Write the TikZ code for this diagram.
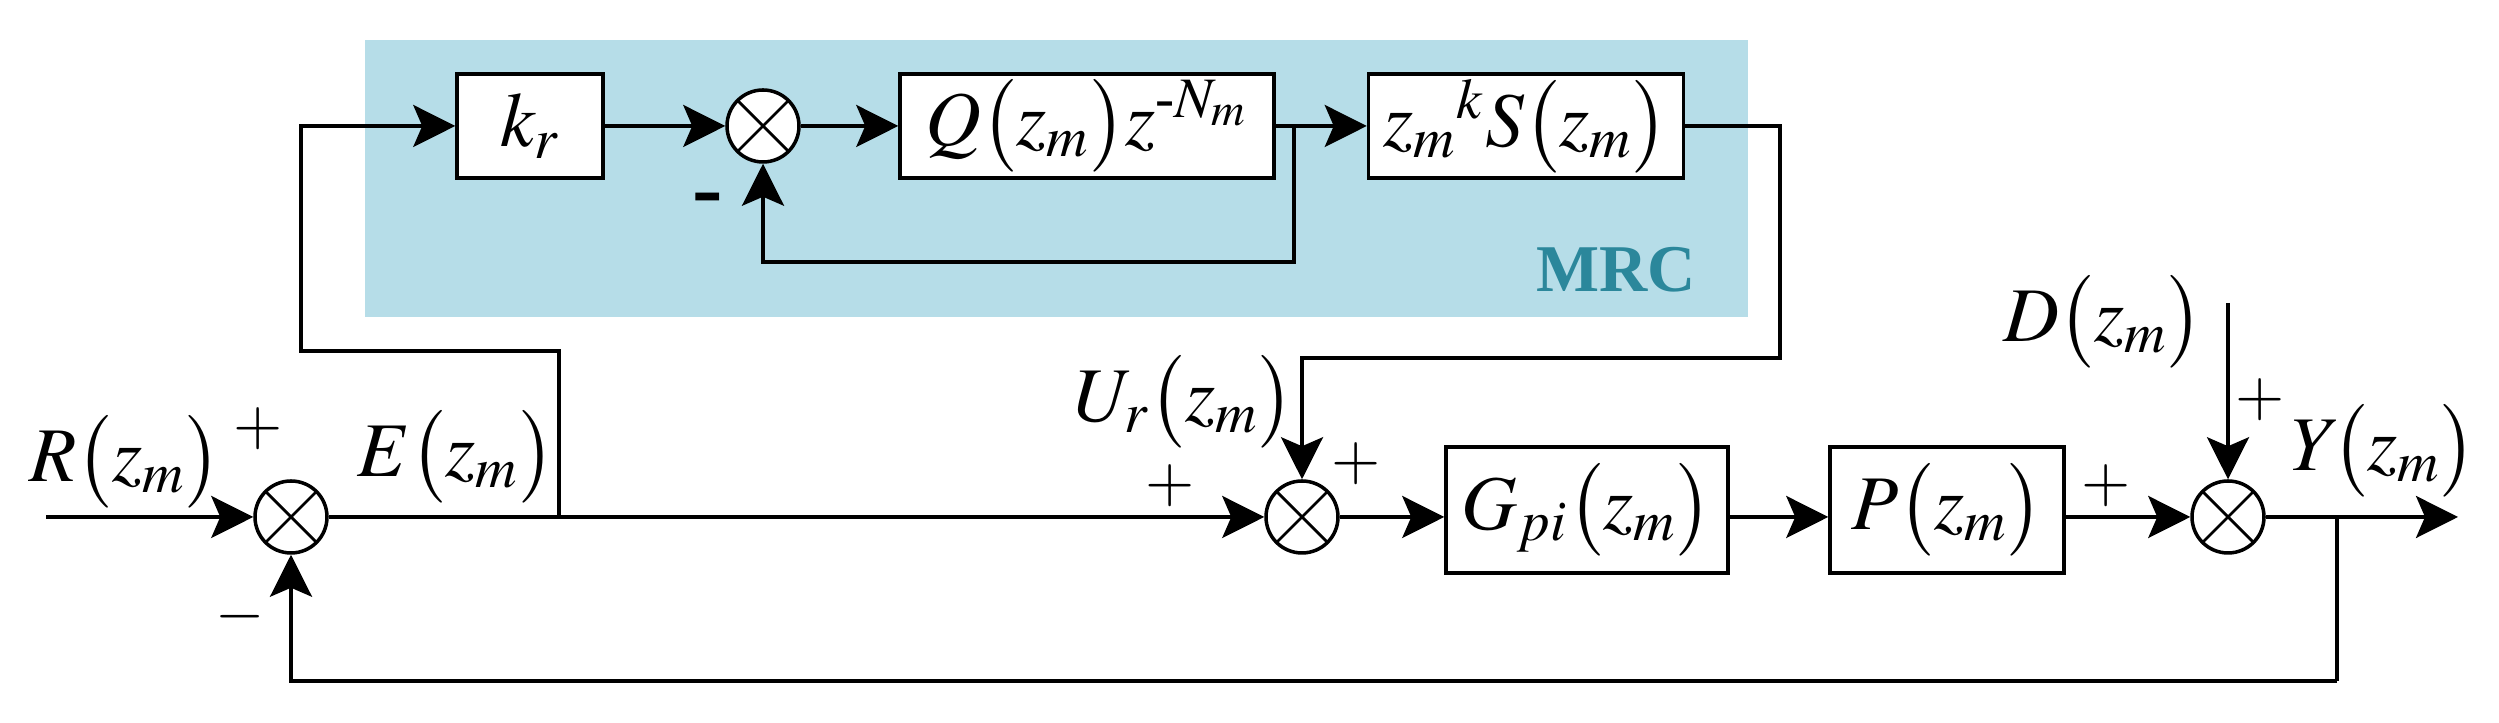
\documentclass[tikz,border=0pt]{standalone}
\usepackage{amsmath}
\usepackage{mathptmx}
\usepackage{fontspec}
\setmainfont{Liberation Serif}
\usepackage{tikz}
\usetikzlibrary{arrows.meta, positioning, calc}
\definecolor{mrcfill}{HTML}{B6DDE8}
\definecolor{mrctext}{HTML}{2B879B}

\begin{document}
\begin{tikzpicture}[
    block/.style={rectangle, draw, line width=1pt, fill=white, minimum height=#1, inner sep=0pt, font=\fontsize{22}{26}\selectfont},
    block/.default={1.04cm},
    sumnode/.style={circle, draw, line width=1pt, fill=white, minimum size=0.72cm, inner sep=0pt,
        path picture={
            \draw[line width=0.8pt] ([shift={(45:3.6mm)}]path picture bounding box.center) -- ([shift={(225:3.6mm)}]path picture bounding box.center);
            \draw[line width=0.8pt] ([shift={(135:3.6mm)}]path picture bounding box.center) -- ([shift={(315:3.6mm)}]path picture bounding box.center);
        }},
    arr/.style={line width=1pt, -{Stealth[length=4.2mm, width=4.2mm, inset=0.9mm]}},
    wire/.style={line width=1pt},
    sig/.style={font=\fontsize{22}{26}\selectfont},
    sign/.style={font=\fontsize{18}{20}\selectfont},
]
\useasboundingbox (0,0) rectangle (24.99,-7.23);

% MRC block
\fill[mrcfill] (3.65,-0.40) rectangle (17.48,-3.17);
\node[font=\fontsize{19}{22}\selectfont\bfseries, color=mrctext] (mrc) at (16.16,-2.70) {MRC};

\node[block, minimum width=1.46cm] (kr) at (5.30,-1.26) {$k_r$};
\node[sumnode] (sumi) at (7.63,-1.26) {};
\node[block, minimum width=3.74cm] (Q) at (10.87,-1.26) {$Q\bigl(z_m\bigr)z^{\text{-}N_m}$};
\node[block, minimum width=3.15cm] (S) at (15.26,-1.26) {$z_m{}^kS\bigl(z_m\bigr)$};
\node[font=\fontsize{26}{28}\selectfont\bfseries] (mi) at (7.08,-2.06) {-};

% main loop
\node[sumnode] (s1) at (2.91,-5.17) {};
\node[sumnode] (s2) at (13.02,-5.17) {};
\node[sumnode] (s3) at (22.28,-5.17) {};
\node[block=1.26cm, minimum width=2.82cm] (G) at (15.87,-5.10) {$G_{pi}\bigl(z_m\bigr)$};
\node[block=1.26cm, minimum width=2.34cm] (P) at (19.47,-5.10) {$P\bigl(z_m\bigr)$};

\coordinate (rin) at (0.46,-5.17);
\coordinate (eb) at (5.59,-5.17);
\coordinate (fb1) at (3.01,-3.51);
\coordinate (qt) at (12.94,-1.26);
\coordinate (qfb) at (12.94,-2.62);
\coordinate (sc1) at (17.80,-3.58);
\coordinate (din) at (22.28,-3.03);
\coordinate (yb) at (23.37,-5.17);
\coordinate (yout) at (24.58,-5.17);
\coordinate (fbb) at (23.37,-6.81);

% connectors
\draw[arr] (rin) -- (s1.west);
\draw[arr] (s1.east) -- (s2.west);
\draw[arr] (eb) |- (fb1) |- (kr.west);
\draw[arr] (kr) -- (sumi);
\draw[arr] (sumi) -- (Q);
\draw[arr] (Q) -- (S);
\draw[arr] (qt) -- (qfb) -| (sumi.south);
\draw[arr] (S.east) -| (sc1) -| (s2.north);
\draw[arr] (s2.east) -- (s2.east -| G.west);
\draw[arr] (G.east |- s2) -- (P.west |- s2);
\draw[arr] (P.east |- s3) -- (s3.west);
\draw[arr] (din) -- (s3.north);
\draw[arr] (s3.east) -- (yout);
\draw[wire] (yb) -- (fbb);
\draw[arr] (fbb) -| (s1.south);

% signals
\node[sig] (rl) at (1.25,-4.62) {$R\bigl(z_m\bigr)$};
\node[sig] (el) at (4.56,-4.57) {$E\bigl(z_m\bigr)$};
\node[sig] (ul) at (11.84,-4.02) {$U_r\bigl(z_m\bigr)$};
\node[sig] (dl) at (21.03,-3.22) {$D\bigl(z_m\bigr)$};
\node[sig] (yl) at (23.84,-4.51) {$Y\!\bigl(z_m\bigr)$};

% signs
\node[sign] (p1) at (2.58,-4.29) {$+$};
\node[sign] (m1) at (2.40,-6.17) {$-$};
\node[sign] (p2) at (11.70,-4.86) {$+$};
\node[sign] (p3) at (13.56,-4.64) {$+$};
\node[sign] (p4) at (21.06,-4.86) {$+$};
\node[sign] (p5) at (22.60,-4.00) {$+$};

\end{tikzpicture}
\end{document}
